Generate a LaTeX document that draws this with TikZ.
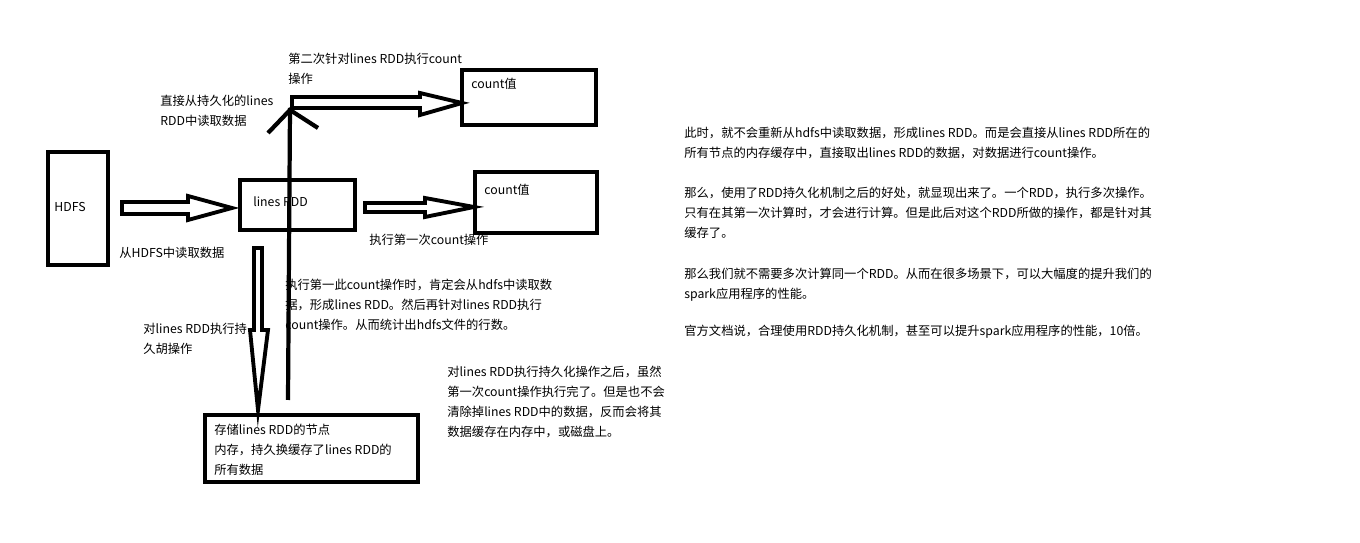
\documentclass[tikz,border=0pt]{standalone}
\usepackage{fontspec}
\setmainfont{Noto Sans CJK SC}
\begin{document}
\begin{tikzpicture}[x=0.02cm,y=-0.02cm,
  box/.style={draw,line width=2.4pt},
  txt/.style={anchor=west,align=left,inner sep=0pt,font=\fontsize{7}{11.4}\selectfont},
  fat/.style={draw,line width=2.2pt,line join=miter}]

\useasboundingbox (0,0) rectangle (1360,543);

% boxes
\draw[box] (48,152) rectangle (108,265);
\draw[box] (240,180) rectangle (355,230);
\draw[box] (462,70) rectangle (596,125);
\draw[box] (475,172) rectangle (597,233);
\draw[box] (205,415) rectangle (418,482);

% hollow arrows
\draw[fat] (122,202) -- (188,202) -- (188,196) -- (232,208) -- (188,220) -- (188,214) -- (122,214) -- cycle;
\draw[fat] (365,203) -- (425,203) -- (425,198) -- (474,207) -- (425,217) -- (425,212) -- (365,212) -- cycle;
\draw[fat] (292,97) -- (420,97) -- (420,93) -- (462,103) -- (420,115) -- (420,108) -- (292,108) -- cycle;
\draw[fat] (254,248) -- (262,248) -- (262,330) -- (268,330) -- (258,410) -- (250,330) -- (254,330) -- cycle;

% line up
\draw[line width=2.4pt] (288,400) -- (290,108);
\draw[line width=2.4pt] (268,133) -- (290,110) -- (318,128);

% labels
\node[txt] at (54,207) {HDFS};
\node[txt] at (253,202) {lines RDD};
\node[txt] at (471,84) {count值};
\node[txt] at (484,190) {count值};
\node[txt,anchor=north west] at (288,53) {第二次针对lines RDD执行count\\操作};
\node[txt,anchor=north west] at (160,95) {直接从持久化的lines\\RDD中读取数据};
\node[txt] at (119,253) {从HDFS中读取数据};
\node[txt] at (369,240) {执行第一次count操作};
\node[txt,anchor=north west] at (285,279) {执行第一此count操作时，肯定会从hdfs中读取数\\据，形成lines RDD。然后再针对lines RDD执行\\count操作。从而统计出hdfs文件的行数。};
\node[txt,anchor=north west] at (143,323) {对lines RDD执行持\\久胡操作};
\node[txt,anchor=north west] at (447,366) {对lines RDD执行持久化操作之后，虽然\\第一次count操作执行完了。但是也不会\\清除掉lines RDD中的数据，反而会将其\\数据缓存在内存中，或磁盘上。};
\node[txt,anchor=north west] at (214,424) {存储lines RDD的节点\\内存，持久换缓存了lines RDD的\\所有数据};
\node[txt,anchor=north west] at (684,127) {此时，就不会重新从hdfs中读取数据，形成lines RDD。而是会直接从lines RDD所在的\\所有节点的内存缓存中，直接取出lines RDD的数据，对数据进行count操作。};
\node[txt,anchor=north west] at (684,187) {那么，使用了RDD持久化机制之后的好处，就显现出来了。一个RDD，执行多次操作。\\只有在其第一次计算时，才会进行计算。但是此后对这个RDD所做的操作，都是针对其\\缓存了。};
\node[txt,anchor=north west] at (684,268) {那么我们就不需要多次计算同一个RDD。从而在很多场景下，可以大幅度的提升我们的\\spark应用程序的性能。};
\node[txt] at (684,332) {官方文档说，合理使用RDD持久化机制，甚至可以提升spark应用程序的性能，10倍。};

\end{tikzpicture}
\end{document}
